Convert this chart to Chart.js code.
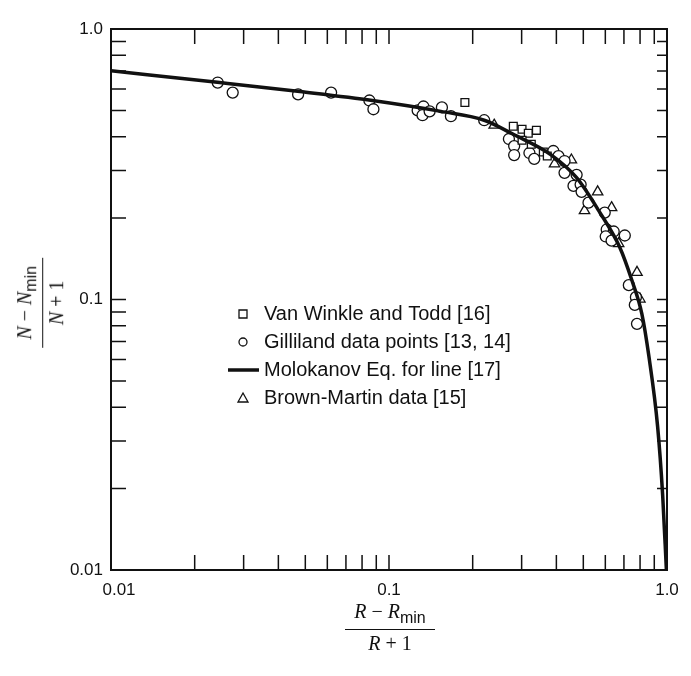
<!DOCTYPE html>
<html>
<head>
<meta charset="utf-8">
<script src="https://cdn.jsdelivr.net/npm/chart.js@4.4.0/dist/chart.umd.min.js"></script>
<style>
  body { margin: 0; background: #fff; }
  #wrap { position: relative; width: 691px; height: 676px; }
  .frac { position: absolute; font-family: "Liberation Serif", serif; font-size: 20px; text-align: center; color: #111; line-height: 1.1; }
  .frac .num { border-bottom: 1.5px solid #111; padding: 0 1px 2px 1px; font-style: italic; }
  .frac .den { padding-top: 2px; font-style: italic; }
  .frac sub { font-family: "Liberation Sans", sans-serif; font-style: normal; font-size: 16px; }
  .up { font-style: normal; }
</style>
</head>
<body>
<div id="wrap">
  <canvas id="grafico" width="691" height="676"></canvas>
  <div class="frac" id="xTitulo" style="left:345px; top:600px; width:90px;">
    <div class="num">R <span class="up">−</span> R<sub>min</sub></div>
    <div class="den">R <span class="up">+ 1</span></div>
  </div>
  <div class="frac" id="yTitulo" style="left:-5px; top:276px; width:90px; transform: rotate(-90deg);">
    <div class="num">N <span class="up">−</span> N<sub>min</sub></div>
    <div class="den">N <span class="up">+ 1</span></div>
  </div>
</div>
<script>
//*************  Dados  *********************************/
// Van Winkle and Todd (quadrados)
const vanWinkleX = [0.1875, 0.280, 0.301, 0.317, 0.339, 0.301, 0.325, 0.359, 0.371]
const vanWinkleY = [0.535, 0.437, 0.426, 0.412, 0.422, 0.388, 0.375, 0.351, 0.339]

// Gilliland (circulos)
const gillilandX = [0.0242, 0.0274, 0.0471, 0.0619, 0.085, 0.0879, 0.1268, 0.133, 0.132, 0.140, 0.155, 0.167,
                    0.220, 0.270, 0.282, 0.282, 0.320, 0.333, 0.390, 0.407, 0.428, 0.428, 0.473, 0.461, 0.489,
                    0.493, 0.522, 0.597, 0.607, 0.643, 0.705, 0.602, 0.632, 0.729, 0.773, 0.766, 0.780]
const gillilandY = [0.634, 0.582, 0.573, 0.582, 0.544, 0.505, 0.500, 0.517, 0.480, 0.496, 0.513, 0.476,
                    0.460, 0.392, 0.369, 0.342, 0.348, 0.331, 0.354, 0.339, 0.325, 0.294, 0.289, 0.263, 0.266,
                    0.250, 0.228, 0.2095, 0.1815, 0.1784, 0.1724, 0.171, 0.165, 0.113, 0.102, 0.0955, 0.0813]

// Brown-Martin (triangulos)
const brownX = [0.239, 0.453, 0.394, 0.563, 0.505, 0.632, 0.670, 0.780, 0.799]
const brownY = [0.441, 0.328, 0.317, 0.250, 0.213, 0.2185, 0.161, 0.126, 0.1004]

// linha de Molokanov
const linhaX = [0.01, 0.0246, 0.0478, 0.0872, 0.1536, 0.220, 0.280, 0.384, 0.473, 0.568, 0.676, 0.747, 0.812, 0.861, 0.925, 0.965, 0.995]
const linhaY = [0.701, 0.634, 0.587, 0.544, 0.496, 0.460, 0.408, 0.342, 0.282, 0.213, 0.156, 0.118, 0.0885, 0.0615, 0.034, 0.0188, 0.01]

const tickLabels = ["0.01", "0.1", "1.0"]
const tickValues = [0.01, 0.1, 1.0]

const legendaTextos = ["Van Winkle and Todd [16]", "Gilliland data points [13, 14]", "Molokanov Eq. for line [17]", "Brown-Martin data [15]"]

function juntar(xs, ys){
    let pts = []
    for(let i = 0; i < xs.length; i++){
        pts.push({x: xs[i], y: ys[i]})
    }
    return pts
}

//*************  Plugin: moldura, ticks, legenda  ****************/
const molduraPlugin = {
    id: "moldura",
    afterDraw(chart){
        const ctx = chart.ctx
        const a = chart.chartArea
        const sx = chart.scales.x
        const sy = chart.scales.y
        ctx.save()
        ctx.strokeStyle = "#111"
        ctx.lineWidth = 2
        ctx.strokeRect(a.left, a.top, a.right - a.left, a.bottom - a.top)

        // ticks menores para dentro
        ctx.lineWidth = 1.5
        const len = 15
        for(let d = 0.01; d < 1; d *= 10){
            for(let m = 1; m <= 9; m++){
                let v = d * m
                if(m == 1 && d == 0.01) continue
                let px = sx.getPixelForValue(v)
                let py = sy.getPixelForValue(v)
                ctx.beginPath()
                ctx.moveTo(px, a.bottom); ctx.lineTo(px, a.bottom - len)
                ctx.moveTo(px, a.top); ctx.lineTo(px, a.top + len)
                ctx.moveTo(a.left, py); ctx.lineTo(a.left + len, py)
                ctx.moveTo(a.right, py); ctx.lineTo(a.right - 10, py)
                ctx.stroke()
            }
        }

        // rótulos
        ctx.fillStyle = "#111"
        ctx.font = "17px 'Liberation Sans', Arial, sans-serif"
        for(let i = 0; i < tickValues.length; i++){
            ctx.textAlign = "right"
            ctx.textBaseline = "middle"
            ctx.fillText(tickLabels[i], a.left - 8, sy.getPixelForValue(tickValues[i]))
            ctx.textAlign = "center"
            ctx.textBaseline = "top"
            let px = sx.getPixelForValue(tickValues[i])
            if(i == 0) px += 8
            ctx.fillText(tickLabels[i], px, a.bottom + 12)
        }

        // legenda dentro do gráfico
        const lx = 243, ly = 314, dy = 28
        ctx.font = "20px 'Liberation Sans', Arial, sans-serif"
        ctx.textAlign = "left"
        ctx.textBaseline = "middle"
        ctx.lineWidth = 1.3
        for(let i = 0; i < legendaTextos.length; i++){
            let y = ly + i * dy
            ctx.beginPath()
            if(i == 0){
                ctx.rect(lx - 4, y - 4, 8, 8)
            } else if(i == 1){
                ctx.arc(lx, y, 4, 0, Math.PI * 2)
            } else if(i == 2){
                ctx.save(); ctx.lineWidth = 3.5
                ctx.moveTo(lx - 15, y); ctx.lineTo(lx + 16, y)
                ctx.stroke(); ctx.restore()
            } else {
                ctx.moveTo(lx, y - 5); ctx.lineTo(lx + 5, y + 4); ctx.lineTo(lx - 5, y + 4); ctx.closePath()
            }
            ctx.stroke()
            ctx.fillText(legendaTextos[i], lx + 21, y)
        }
        ctx.restore()
    }
}

const GP = document.getElementById("grafico")

new Chart(GP, {
    type: "scatter",
    data: {
        datasets: [
            {
                label: "Molokanov Eq. for line [17]",
                data: juntar(linhaX, linhaY),
                showLine: true,
                borderColor: "#111",
                borderWidth: 3.5,
                pointRadius: 0,
                tension: 0.4,
                cubicInterpolationMode: "monotone"
            },
            {
                label: "Van Winkle and Todd [16]",
                data: juntar(vanWinkleX, vanWinkleY),
                pointStyle: "rect",
                pointRadius: 5.5,
                borderColor: "#111",
                backgroundColor: "#fff",
                borderWidth: 1.3
            },
            {
                label: "Gilliland data points [13, 14]",
                data: juntar(gillilandX, gillilandY),
                pointStyle: "circle",
                pointRadius: 5.5,
                borderColor: "#111",
                backgroundColor: "#fff",
                borderWidth: 1.3
            },
            {
                label: "Brown-Martin data [15]",
                data: juntar(brownX, brownY),
                pointStyle: "triangle",
                pointRadius: 6,
                borderColor: "#111",
                backgroundColor: "#fff",
                borderWidth: 1.3
            }
        ]
    },
    options: {
        responsive: false,
        animation: false,
        layout: { padding: { left: 111, right: 24, top: 29, bottom: 106 } },
        plugins: { legend: { display: false }, tooltip: { enabled: false } },
        scales: {
            x: { type: "logarithmic", min: 0.01, max: 1, display: false },
            y: { type: "logarithmic", min: 0.01, max: 1, display: false }
        }
    },
    plugins: [molduraPlugin]
})
</script>
</body>
</html>
